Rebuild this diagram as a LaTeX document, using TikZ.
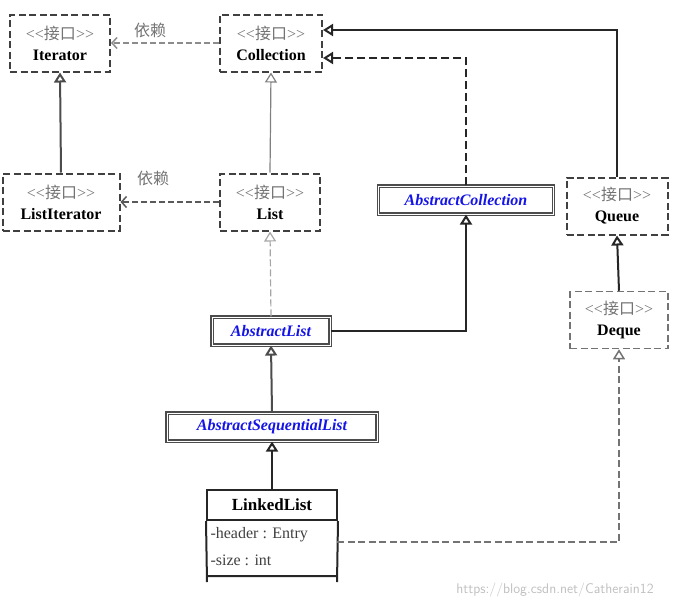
\documentclass[tikz,border=0pt]{standalone}
\usepackage{fontspec}
\setmainfont{Liberation Serif}
\newfontfamily\cjk{Noto Sans CJK SC}
\usetikzlibrary{arrows.meta}
\definecolor{iblue}{RGB}{20,20,230}
\begin{document}
\begin{tikzpicture}[x=1pt,y=-1pt,
  iface/.style={draw=black!75,line width=2pt,dash pattern=on 7pt off 3.5pt,minimum height=57,inner sep=0pt,align=center,font=\fontsize{16}{21}\selectfont},
  abs/.style={draw=black!70,line width=1.1pt,double=white,double distance=1pt,inner sep=0pt,minimum height=28,font=\fontsize{16}{18}\selectfont\bfseries\itshape\color{iblue}},
  gen/.style={-{Triangle[open,length=10,width=12]},line width=2pt,draw=black!70},
  dep/.style={-{Straight Barb[length=5,width=11]},line width=1.5pt,draw=black!45,dash pattern=on 6pt off 3pt},
  lbl/.style={font=\cjk\fontsize{16}{18}\selectfont,text=black!55}]
\useasboundingbox (0,0) rectangle (677,608);
\newcommand{\ifc}[1]{{\color{black!55}<\kern0pt<{\cjk 接口}>\kern0pt>}\\\textbf{#1}}
\node[iface,minimum width=100] (it) at (60,43) {\ifc{Iterator}};
\node[iface,minimum width=102] (col) at (271,43) {\ifc{Collection}};
\node[iface,minimum width=117] (lit) at (61,202) {\ifc{ListIterator}};
\node[iface,minimum width=100] (list) at (270,202) {\ifc{List}};
\node[iface,minimum width=101] (q) at (617,206) {\ifc{Queue}};
\node[iface,minimum width=98,draw=black!55,line width=1.5pt] (dq) at (619,320) {\ifc{Deque}};
\node[abs,minimum width=175] (ac) at (466,200) {AbstractCollection};
\node[abs,minimum width=118] (al) at (271,331) {AbstractList};
\node[abs,minimum width=210] (asl) at (272,427) {AbstractSequentialList};
\node[draw=black!85,line width=2pt,minimum width=130,minimum height=30,inner sep=0pt,font=\fontsize{17}{19}\selectfont\bfseries] (ll) at (272,505) {LinkedList};
\draw[line width=2pt,draw=black!85] (ll.south west) -- (207,582) (ll.south east) -- (337,582) (207,576) -- (337,576);
\node[anchor=west,font=\fontsize{16}{18}\selectfont,text=black!75] (h) at (207,535) {-header : Entry};
\node[anchor=west,font=\fontsize{16}{18}\selectfont,text=black!75] (s) at (207,560) {-size : int};
\coordinate (hr) at (337,542);
% dependencies
\draw[dep] (col.west) -- (it.east);
\node[lbl] (d1) at (150,30) {依赖};
\draw[dep,draw=black!65] (list.west) -- (lit.east);
\node[lbl] (d2) at (153,178) {依赖};
% generalizations
\draw[gen] (lit.north) -- (it.south);
\draw[gen,line width=1.2pt,draw=black!50] (list.north) -- (col.south);
\draw[gen,draw=black!35,line width=1.2pt,dash pattern=on 7pt off 3pt] (al.north) -- (list.south);
\draw[gen,draw=black!85] (al.east) -| (ac.south);
\draw[gen,draw=black!85,dash pattern=on 8pt off 4pt] (ac.north) |- ([yshift=-15]col.east);
\draw[gen,draw=black!85] (q.north) |- ([yshift=13]col.east);
\draw[gen,draw=black!85] (dq.north) -- (q.south);
\draw[gen] (asl.north) -- (al.south);
\draw[gen,draw=black!85] (ll.north) -- (asl.south);
\draw[gen,draw=black!55,line width=1.5pt,dash pattern=on 7pt off 3.5pt] (hr) -| (dq.south);
\node[font=\sffamily\fontsize{14}{16}\selectfont,text=black!25] (wm) at (555,590) {https://blog.csdn.net/Catherain12};
\end{tikzpicture}
\end{document}
